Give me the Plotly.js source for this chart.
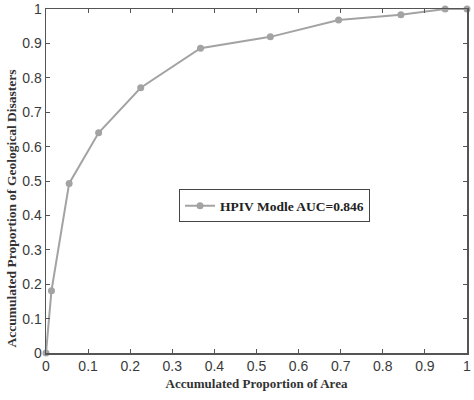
<!DOCTYPE html>
<html>
<head>
<meta charset="utf-8">
<script src="https://cdn.plot.ly/plotly-3.0.1.min.js"></script>
<style>html,body{margin:0;padding:0;background:#fff;}#chart{width:474px;height:400px;}</style>
</head>
<body>
<div id="chart"></div>
<script>
const areaProportion = [0, 0.013, 0.055, 0.125, 0.225, 0.367, 0.533, 0.695, 0.843, 0.948, 1.0];
const disasterProportion = [0, 0.181, 0.493, 0.64, 0.771, 0.886, 0.919, 0.968, 0.983, 1.0, 1.0];
const seriesName = "HPIV Modle AUC=0.846";
const xTitle = "Accumulated Proportion of Area";
const yTitle = "Accumulated Proportion of Geological Disasters";
const tickVals = [0,0.1,0.2,0.3,0.4,0.5,0.6,0.7,0.8,0.9,1];
const tickText = ["0","0.1","0.2","0.3","0.4","0.5","0.6","0.7","0.8","0.9","1"];

const trace = {
  x: areaProportion, y: disasterProportion, name: seriesName,
  type: 'scatter', mode: 'lines+markers',
  line: {color: '#a3a3a3', width: 2},
  marker: {color: '#a3a3a3', size: 7},
  cliponaxis: false, showlegend: true
};
const axisCommon = {
  range: [0, 1], tickvals: tickVals, ticktext: tickText,
  ticks: 'inside', ticklen: 4, tickwidth: 1, tickcolor: '#555',
  showline: true, linecolor: '#555', linewidth: 1.5, mirror: 'ticks',
  showgrid: false, zeroline: false,
  tickfont: {family: 'Liberation Sans, Arial, sans-serif', size: 14, color: '#3a3a3a'}
};
const layout = {
  width: 474, height: 400,
  margin: {l: 46, r: 7, t: 9, b: 47},
  paper_bgcolor: '#fff', plot_bgcolor: '#fff',
  xaxis: Object.assign({}, axisCommon, {
    title: {text: '<b>' + xTitle + '</b>', standoff: 5,
      font: {family: 'Liberation Serif, Times New Roman, serif', size: 13, color: '#333'}}
  }),
  yaxis: Object.assign({}, axisCommon),
  annotations: [{
    text: '<b>' + yTitle + '</b>', textangle: -90,
    xref: 'paper', yref: 'paper', x: -0.081, y: 0.42,
    xanchor: 'center', yanchor: 'middle', showarrow: false,
    font: {family: 'Liberation Serif, Times New Roman, serif', size: 13.5, color: '#333'}
  }],
  showlegend: true,
  legend: {
    x: 0.316, y: 0.4275, xanchor: 'left', yanchor: 'middle',
    bgcolor: '#fff', bordercolor: '#444', borderwidth: 1,
    font: {family: 'Liberation Serif, Times New Roman, serif', size: 13.5, color: '#222', weight: 'bold'},
    itemwidth: 30, tracegroupgap: 0
  }
};
Plotly.newPlot('chart', [trace], layout, {staticPlot: true, displayModeBar: false});
</script>
</body>
</html>
